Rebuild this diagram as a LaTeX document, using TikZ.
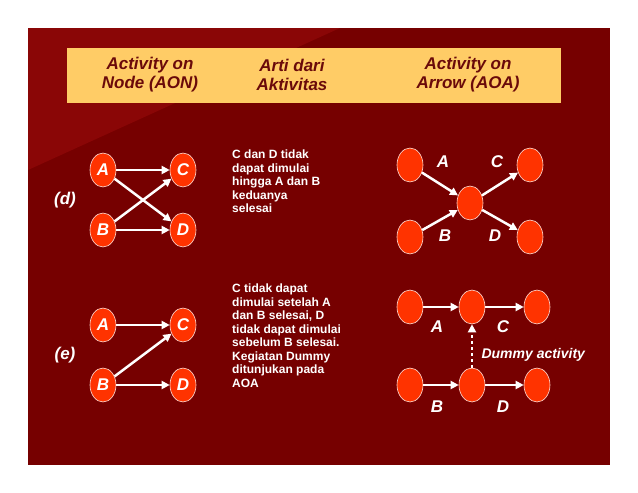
\documentclass[tikz,border=0pt]{standalone}
\usepackage{fontspec}
\setmainfont{Liberation Sans}
\usetikzlibrary{arrows.meta,shapes.geometric}
\definecolor{slide}{HTML}{760000}
\definecolor{slidelt}{HTML}{8A0606}
\definecolor{hdr}{HTML}{FFCC66}
\definecolor{hdrtxt}{HTML}{6A0A0A}
\definecolor{nd}{HTML}{FF3300}
\begin{document}
\begin{tikzpicture}[x=1pt,y=-1pt,
 ev/.style={ellipse,draw=white!85!nd,line width=0.6pt,fill=nd,minimum width=26pt,minimum height=34pt,inner sep=0pt,font=\bfseries\itshape\fontsize{17}{17}\selectfont,text=white},
 arr/.style={-{Triangle[length=8pt,width=8pt]},white,line width=2.5pt},
 lab/.style={text=white,font=\bfseries\itshape\fontsize{17}{17}\selectfont},
 hd/.style={text=hdrtxt,font=\bfseries\itshape\fontsize{17}{19}\selectfont,align=center},
 body/.style={text=white,font=\bfseries\fontsize{12}{13.5}\selectfont,align=left,anchor=north west,inner sep=0pt}]
\useasboundingbox (0,0) rectangle (638,493);
\fill[white] (0,0) rectangle (638,493);
\fill[slide] (28,28) rectangle (610,465);
\fill[slidelt] (28,28) -- (340,28) -- (28,170) -- cycle;
\fill[hdr] (67,48) rectangle (561,103);
\node[hd] (h1) at (150,75) {Activity on\\Node (AON)};
\node[hd] (h2) at (292,75) {Arti dari\\Aktivitas};
\node[hd] (h3) at (468,75) {Activity on\\Arrow (AOA)};
% (d) AON
\node[lab] (ld) at (65,200) {(d)};
\node[ev] (dA) at (103,170) {A};
\node[ev] (dC) at (183,170) {C};
\node[ev] (dB) at (103,230) {B};
\node[ev] (dD) at (183,230) {D};
\draw[arr] (dA) -- (dC);
\draw[arr] (dA) -- (dD);
\draw[arr] (dB) -- (dC);
\draw[arr] (dB) -- (dD);
\node[body] (td) at (232,150) {C dan D tidak\\dapat dimulai\\hingga A dan B\\keduanya\\selesai};
% (d) AOA
\node[ev] (d1) at (410,165) {};
\node[ev] (d2) at (410,237) {};
\node[ev] (d3) at (470,203) {};
\node[ev] (d4) at (530,165) {};
\node[ev] (d5) at (530,237) {};
\draw[arr] (d1) -- (d3);
\draw[arr] (d2) -- (d3);
\draw[arr] (d3) -- (d4);
\draw[arr] (d3) -- (d5);
\node[lab] (dla) at (443,162) {A};
\node[lab] (dlc) at (497,162) {C};
\node[lab] (dlb) at (445,236) {B};
\node[lab] (dld) at (495,236) {D};
% (e) AON
\node[lab] (le) at (65,355) {(e)};
\node[ev] (eA) at (103,325) {A};
\node[ev] (eC) at (183,325) {C};
\node[ev] (eB) at (103,385) {B};
\node[ev] (eD) at (183,385) {D};
\draw[arr] (eA) -- (eC);
\draw[arr] (eB) -- (eC);
\draw[arr] (eB) -- (eD);
\node[body] (te) at (232,284) {C tidak dapat\\dimulai setelah A\\dan B selesai, D\\tidak dapat dimulai\\sebelum B selesai.\\Kegiatan Dummy\\ditunjukan pada\\AOA};
% (e) AOA
\node[ev] (e1) at (410,307) {};
\node[ev] (e2) at (472,307) {};
\node[ev] (e3) at (537,307) {};
\node[ev] (e4) at (410,385) {};
\node[ev] (e5) at (472,385) {};
\node[ev] (e6) at (537,385) {};
\draw[arr] (e1) -- (e2);
\draw[arr] (e2) -- (e3);
\draw[arr] (e4) -- (e5);
\draw[arr] (e5) -- (e6);
\draw[arr,dash pattern=on 3pt off 3pt] (e5) -- (e2);
\node[lab] (ela) at (437,327) {A};
\node[lab] (elc) at (503,327) {C};
\node[lab] (elb) at (437,407) {B};
\node[lab] (eld) at (503,407) {D};
\node[text=white,font=\bfseries\itshape\fontsize{14}{14}\selectfont,anchor=west] (dum) at (478,355) {Dummy activity};
\end{tikzpicture}
\end{document}
